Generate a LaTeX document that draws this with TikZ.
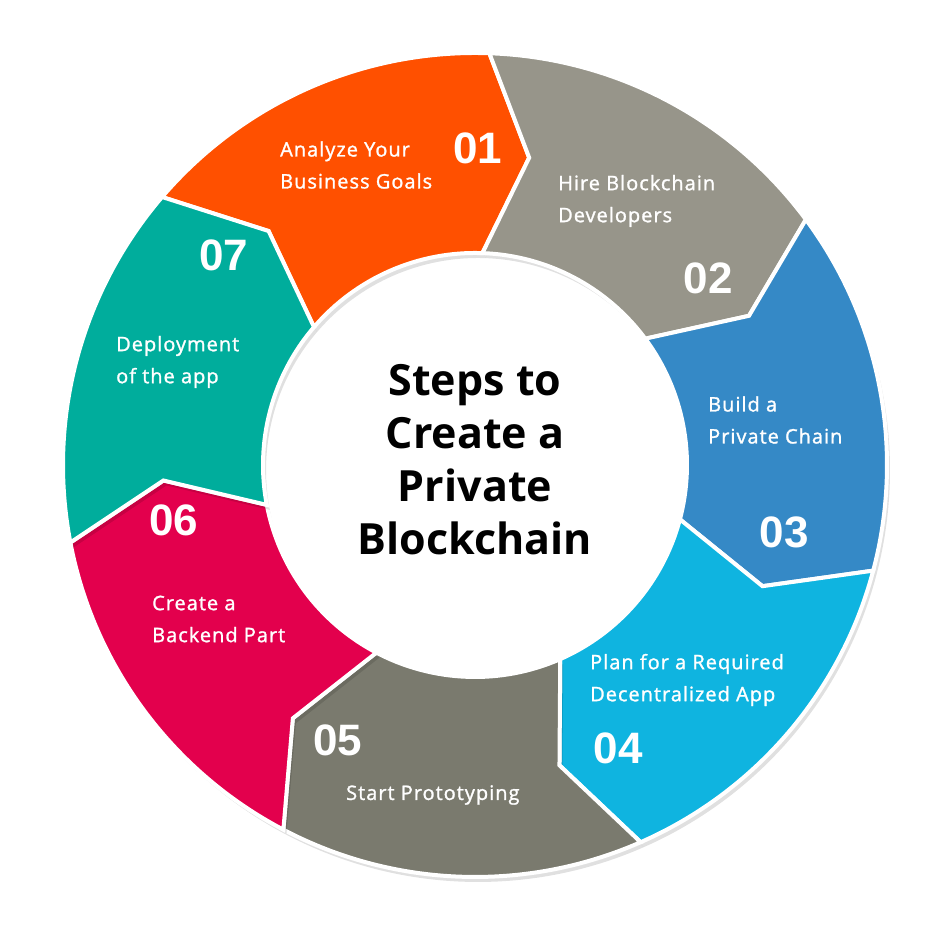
\documentclass[tikz,border=0pt]{standalone}
\usepackage{fontspec}
\setmainfont{Open Sans}
\newfontfamily\numfont{Liberation Sans}
\newfontfamily\lblfont[FakeBold=1.3,LetterSpace=5]{Open Sans}
\definecolor{c1}{HTML}{FF5000}
\definecolor{c2}{HTML}{97958A}
\definecolor{c3}{HTML}{3589C6}
\definecolor{c4}{HTML}{0FB4E0}
\definecolor{c5}{HTML}{7A7A6E}
\definecolor{c6}{HTML}{E3004D}
\definecolor{c7}{HTML}{00AD9C}
\tikzset{
 lbl/.style={text=white,font=\lblfont\fontsize{20}{32}\selectfont,align=left,anchor=west,inner sep=0},
 num/.style={text=white,font=\fontsize{44}{44}\selectfont\numfont\bfseries,inner sep=0},
}
\begin{document}
\begin{tikzpicture}[x=1pt,y=1pt]
\useasboundingbox (0,0) rectangle (950,936);
\coordinate (C) at (475,471);
\def\R{412}\def\r{212}\def\m{312}\def\d{8}
\foreach \i/\col in {0/c1,1/c2,2/c3,3/c4,4/c5,5/c6,6/c7}{
 \pgfmathsetmacro{\aa}{139.43-51.43*\i}
 \pgfmathsetmacro{\ab}{\aa-51.43}
 \begin{scope}[shift={(C)}]
 \fill[black,opacity=0.12,shift={(3,-5)}] (\aa:\R) arc[start angle=\aa,end angle=\ab,radius=\R] -- (\ab-\d:\m) -- (\ab:\r) arc[start angle=\ab,end angle=\aa,radius=\r] -- (\aa-\d:\m) -- cycle;
 \path[fill=\col,draw=white,line width=4pt,line join=miter] (\aa:\R) arc[start angle=\aa,end angle=\ab,radius=\R] -- (\ab-\d:\m) -- (\ab:\r) arc[start angle=\ab,end angle=\aa,radius=\r] -- (\aa-\d:\m) -- cycle;
 \end{scope}
}
\node[lbl] (t1) at (280,771) {Analyze Your\\Business Goals};
\node[num] (n1) at (478,788) {01};
\node[lbl] (t2) at (558,735) {Hire Blockchain\\Developers};
\node[num] (n2) at (708,658) {02};
\node[lbl] (t3) at (708,516) {Build a\\Private Chain};
\node[num] (n3) at (784,404) {03};
\node[lbl] (t4) at (590,256) {Plan for a Required\\Decentralized App};
\node[num] (n4) at (618,188) {04};
\node[lbl] (t5) at (346,141) {Start Prototyping};
\node[num] (n5) at (338,196) {05};
\node[lbl] (t6) at (152,317) {Create a\\Backend Part};
\node[num] (n6) at (174,416) {06};
\node[lbl] (t7) at (116,574) {Deployment\\of the app};
\node[num] (n7) at (224,681) {07};
\node[align=center,font=\fontsize{43}{53}\selectfont\bfseries] (ctr) at (475,476) {Steps to\\Create a\\Private\\Blockchain};
\end{tikzpicture}
\end{document}
